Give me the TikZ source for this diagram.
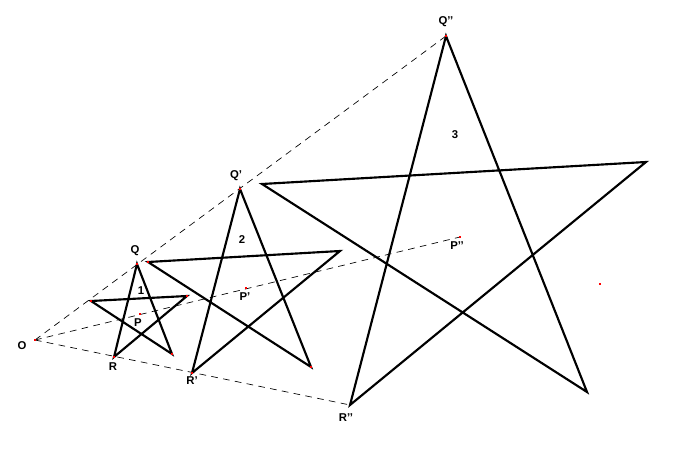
\documentclass[tikz,border=0pt]{standalone}
\usepackage{fontspec}
\setmainfont{Liberation Sans}
\newcommand{\sq}{\char"0027\relax}
\begin{document}
\begin{tikzpicture}[x=0.75pt,y=-0.75pt,
  star/.style={line width=1.6pt,line join=miter},
  ray/.style={dashed,dash pattern=on 5pt off 4pt,line width=0.5pt},
  lab/.style={font=\bfseries\fontsize{8.5}{9}\selectfont,inner sep=0pt},
  pt/.style={fill=red,minimum size=2pt,inner sep=0pt,draw=none}]
\useasboundingbox (0,0) rectangle (673,473);
\coordinate (O) at (35,340);
\coordinate (Q) at (137,264); \coordinate (A1) at (91,301); \coordinate (B1) at (187,296);
\coordinate (R) at (114,357); \coordinate (C1) at (172,354); \coordinate (P) at (140,314);
\coordinate (Q2) at (240,189); \coordinate (A2) at (148,262); \coordinate (B2) at (340,251);
\coordinate (R2) at (192,373); \coordinate (C2) at (311,367); \coordinate (P2) at (246,288);
\coordinate (Q3) at (446,36); \coordinate (A3) at (262,184); \coordinate (B3) at (646,162);
\coordinate (R3) at (350,405); \coordinate (C3) at (587,392); \coordinate (P3) at (460,237);
\draw[ray] (O) -- (Q3);
\draw[ray] (O) -- (P3);
\draw[ray] (O) -- (R3);
\draw[star] (Q) -- (C1) -- (A1) -- (B1) -- (R) -- cycle;
\draw[star] (Q2) -- (C2) -- (A2) -- (B2) -- (R2) -- cycle;
\draw[star] (Q3) -- (C3) -- (A3) -- (B3) -- (R3) -- cycle;
\foreach \p in {O,Q,A1,B1,R,C1,P,Q2,A2,R2,C2,P2,Q3,P3}{\node[pt] at (\p) {};}
\node[pt] (X) at (600,284) {};
\node[lab] (lO) at (22,346) {O};
\node[lab] (lQ) at (135,251) {Q};
\node[lab] (lR) at (113,367) {R};
\node[lab] (lP) at (138,323) {P};
\node[lab] (l1) at (141,291) {1};
\node[lab] (lQ2) at (236,176) {Q\sq};
\node[lab] (lR2) at (192,381) {R\sq};
\node[lab] (lP2) at (245,297) {P\sq};
\node[lab] (l2) at (242,240) {2};
\node[lab] (lQ3) at (446,22) {Q\sq\sq};
\node[lab] (lR3) at (346,418) {R\sq\sq};
\node[lab] (lP3) at (457,246) {P\sq\sq};
\node[lab] (l3) at (455,135) {3};
\end{tikzpicture}
\end{document}
